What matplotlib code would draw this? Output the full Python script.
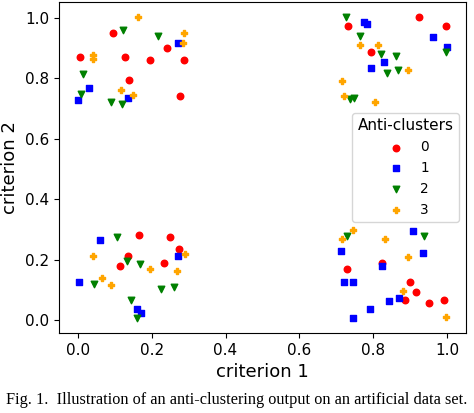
import numpy as np
from matplotlib import pyplot as plt

# anti-cluster 0 (red circles)
x0 = [0.095, 0.242, 0.005, 0.128, 0.196, 0.288, 0.139, 0.276,
      0.732, 0.925, 0.997, 0.795,
      0.166, 0.249, 0.273, 0.136, 0.114, 0.232,
      0.823, 0.728, 0.899, 0.915, 0.887, 0.950, 0.992]
y0 = [0.950, 0.900, 0.871, 0.871, 0.860, 0.861, 0.793, 0.742,
      0.974, 1.001, 0.972, 0.886,
      0.280, 0.273, 0.236, 0.210, 0.179, 0.189,
      0.190, 0.167, 0.126, 0.092, 0.066, 0.055, 0.067]

# anti-cluster 1 (blue squares)
x1 = [0.271, 0.136, 0.031, -0.001,
      0.775, 0.784, 0.963, 1.001, 0.828, 0.794,
      0.060, 0.271, 0.004, 0.159, 0.170,
      0.908, 0.712, 0.934, 0.823, 0.721, 0.744, 0.871, 0.844, 0.791, 0.745]
y1 = [0.915, 0.734, 0.769, 0.727,
      0.986, 0.978, 0.937, 0.904, 0.853, 0.833,
      0.265, 0.212, 0.126, 0.036, 0.024,
      0.294, 0.227, 0.223, 0.179, 0.125, 0.125, 0.072, 0.062, 0.037, 0.008]

# anti-cluster 2 (green triangles)
x2 = [0.122, 0.218, 0.015, 0.009, 0.091, 0.119,
      0.726, 0.998, 0.763, 0.821, 0.863, 0.837, 0.866, 0.737, 0.748,
      0.107, 0.134, 0.167, 0.045, 0.226, 0.259, 0.143, 0.159,
      0.729, 0.938]
y2 = [0.958, 0.940, 0.815, 0.749, 0.720, 0.714,
      1.001, 0.885, 0.941, 0.880, 0.873, 0.816, 0.827, 0.731, 0.735,
      0.276, 0.196, 0.184, 0.118, 0.103, 0.109, 0.065, 0.007,
      0.277, 0.278]

# anti-cluster 3 (orange pluses)
x3 = [0.164, 0.287, 0.285, 0.040, 0.040, 0.116, 0.150,
      0.763, 0.812, 0.895, 0.716, 0.721, 0.805,
      0.290, 0.042, 0.194, 0.268, 0.066, 0.089,
      0.745, 0.716, 0.833, 0.895, 0.881, 0.998]
y3 = [1.002, 0.950, 0.915, 0.876, 0.862, 0.762, 0.744,
      0.911, 0.911, 0.828, 0.791, 0.740, 0.722,
      0.219, 0.211, 0.169, 0.163, 0.138, 0.117,
      0.296, 0.267, 0.268, 0.209, 0.096, 0.011]

labels = ['0', '1', '2', '3']

fig = plt.figure(figsize=(4.74, 4.13), dpi=100)
ax = fig.add_axes([0.1245, 0.194, 0.8585, 0.801])

ax.scatter(x0, y0, marker='o', color='red', s=22, label=labels[0])
ax.scatter(x1, y1, marker='s', color='blue', s=22, label=labels[1])
ax.scatter(x2, y2, marker='v', color='green', s=22, label=labels[2])
ax.scatter(x3, y3, marker='P', color='orange', s=22, label=labels[3])

ax.set_xticks([0.0, 0.2, 0.4, 0.6, 0.8, 1.0])
ax.set_yticks([0.0, 0.2, 0.4, 0.6, 0.8, 1.0])
ax.tick_params(labelsize=11)
ax.set_xlabel('criterion 1', fontsize=13)
ax.set_ylabel('criterion 2', fontsize=13)
ax.legend(title='Anti-clusters', loc='center right', fontsize=9.8, title_fontsize=11)

fig.text(0.5, 0.031, 'Fig. 1.  Illustration of an anti-clustering output on an artificial data set.',
         ha='center', va='center', family='Liberation Serif', fontsize=11.7)

fig.savefig('out.png', dpi=100)
